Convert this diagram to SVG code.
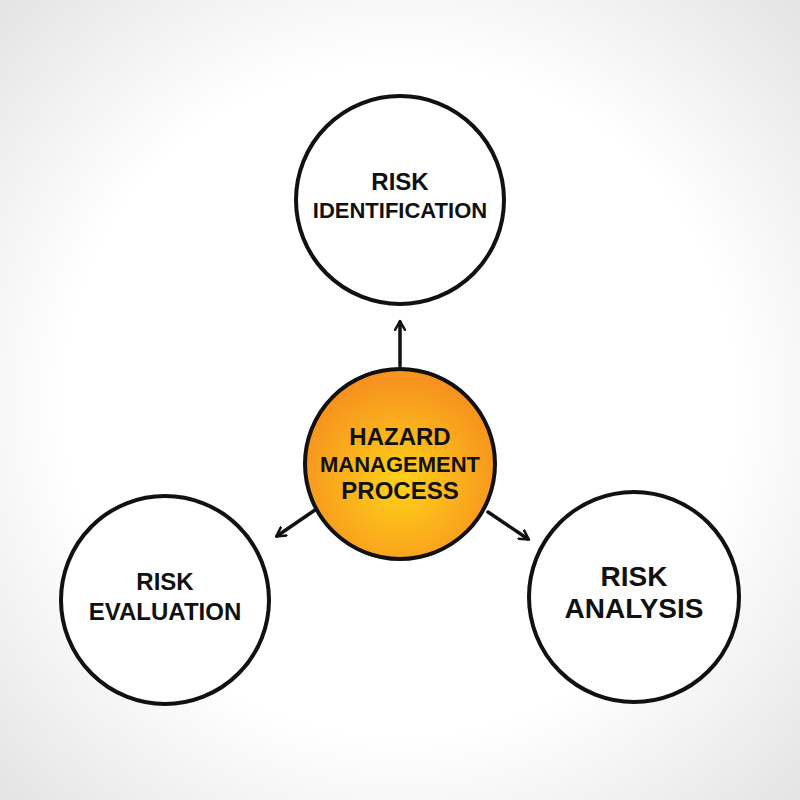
<svg xmlns="http://www.w3.org/2000/svg" width="800" height="800" viewBox="0 0 800 800">
<defs>
<radialGradient id="bg" cx="50%" cy="50%" r="70%"><stop offset="0.6" stop-color="#ffffff"/><stop offset="1" stop-color="#e4e4e4"/></radialGradient>
<radialGradient id="og" cx="50%" cy="60%" r="55%"><stop offset="0" stop-color="#ffd21a"/><stop offset="1" stop-color="#f7931e"/></radialGradient>
<marker id="ah" viewBox="0 0 12 12" refX="9" refY="6" markerWidth="12" markerHeight="12" markerUnits="userSpaceOnUse" orient="auto"><path d="M1 1 L10 6 L1 11" fill="none" stroke="#111" stroke-width="2.5" stroke-linecap="round" stroke-linejoin="round"/></marker>
</defs>
<style>
.c{fill:#fff;stroke:#111;stroke-width:4}
.t{font-family:"Liberation Sans",Arial,sans-serif;font-weight:bold;font-size:24px;fill:#111;text-anchor:middle}
.l{stroke:#111;stroke-width:3.5;fill:none;stroke-linecap:round;marker-end:url(#ah)}
</style>
<rect width="800" height="800" fill="url(#bg)"/>
<g id="connectors">
<line class="l" x1="400" y1="366" x2="400" y2="322"/>
<line class="l" x1="315" y1="510" x2="277" y2="536"/>
<line class="l" x1="488" y1="512" x2="528" y2="539"/>
</g>
<g id="top"><circle class="c" cx="400" cy="200" r="104"/><text class="t" x="400" y="190">RISK</text><text class="t" x="400" y="218" style="font-size:22px">IDENTIFICATION</text></g>
<g id="center"><circle cx="400" cy="464" r="95" fill="url(#og)" stroke="#111" stroke-width="4"/><text class="t" x="400" y="445">HAZARD</text><text class="t" x="400" y="472" style="font-size:22px">MANAGEMENT</text><text class="t" x="400" y="499">PROCESS</text></g>
<g id="left"><circle class="c" cx="165" cy="600" r="104"/><text class="t" x="165" y="590">RISK</text><text class="t" x="165" y="620">EVALUATION</text></g>
<g id="right"><circle class="c" cx="634" cy="597" r="105"/><text class="t" x="634" y="586" style="font-size:28px">RISK</text><text class="t" x="634" y="618" style="font-size:28px">ANALYSIS</text></g>
</svg>
